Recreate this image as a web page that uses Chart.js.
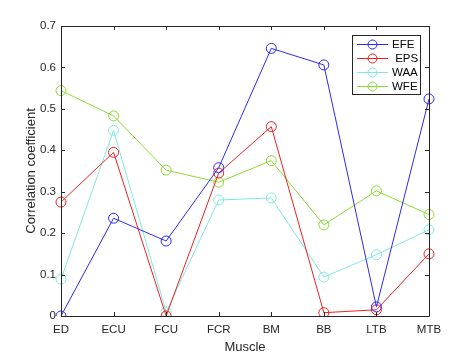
<!DOCTYPE html>
<html><head><meta charset="utf-8">
<script src="https://cdn.jsdelivr.net/npm/chart.js@4"></script>
<style>html,body{margin:0;padding:0;background:#fff;}#wrap{width:474px;height:355px;}</style>
</head><body><div id="wrap"><canvas id="c" width="474" height="355"></canvas></div>
<script>
const categories = ['ED','ECU','FCU','FCR','BM','BB','LTB','MTB'];
const efe = [0.000, 0.236, 0.181, 0.358, 0.646, 0.606, 0.022, 0.524];
const eps = [0.275, 0.395, 0.000, 0.345, 0.457, 0.008, 0.015, 0.150];
const waa = [0.089, 0.448, 0.010, 0.280, 0.285, 0.094, 0.148, 0.208];
const wfe = [0.544, 0.483, 0.352, 0.323, 0.375, 0.220, 0.302, 0.245];
const yTicks = [0, 0.1, 0.2, 0.3, 0.4, 0.5, 0.6, 0.7];
const legendLabels = ['EFE', ' EPS', 'WAA', 'WFE'];
const colors = ['#2b2bf0', '#ee2020', '#80e8e0', '#88dd33'];

const FONT = '"Liberation Sans", Arial, sans-serif';
const AX = '#262626';

function ds(label, data, color){
  return {label, data, borderColor: color, backgroundColor: 'rgba(0,0,0,0)',
    borderWidth: 1, pointRadius: 5, pointHoverRadius: 5, pointBorderWidth: 1,
    pointBackgroundColor: 'rgba(0,0,0,0)', pointBorderColor: color, tension: 0};
}

const boxPlugin = {
  id: 'boxPlugin',
  afterDraw(chart){
    const ctx = chart.ctx, a = chart.chartArea;
    const xs = chart.scales.x, ys = chart.scales.y;
    ctx.save();
    ctx.strokeStyle = AX; ctx.lineWidth = 1;
    ctx.beginPath();
    ctx.rect(Math.round(a.left)+0.5, Math.round(a.top)+0.5, Math.round(a.right-a.left), Math.round(a.bottom-a.top));
    ctx.stroke();
    const tl = 4;
    ctx.beginPath();
    categories.forEach((c,i)=>{
      const x = Math.round(xs.getPixelForValue(i))+0.5;
      ctx.moveTo(x, a.bottom); ctx.lineTo(x, a.bottom - tl);
      ctx.moveTo(x, a.top); ctx.lineTo(x, a.top + tl);
    });
    yTicks.forEach(v=>{
      const y = Math.round(ys.getPixelForValue(v))+0.5;
      ctx.moveTo(a.left, y); ctx.lineTo(a.left + tl, y);
      ctx.moveTo(a.right, y); ctx.lineTo(a.right - tl, y);
    });
    ctx.stroke();
    // legend
    const lx = 352, ly = 35, lw = 68, lh = 59;
    ctx.fillStyle = '#fff';
    ctx.fillRect(lx, ly, lw, lh);
    ctx.strokeStyle = AX;
    ctx.strokeRect(lx+0.5, ly+0.5, lw, lh);
    ctx.font = '11.5px ' + FONT;
    ctx.textBaseline = 'middle';
    ctx.textAlign = 'left';
    chart.data.datasets.forEach((d,i)=>{
      const yy = ly + 9 + i*14;
      ctx.strokeStyle = d.borderColor;
      ctx.beginPath(); ctx.moveTo(lx+5, yy+0.5); ctx.lineTo(lx+36, yy+0.5); ctx.stroke();
      ctx.beginPath(); ctx.arc(lx+20.5, yy+0.5, 4.5, 0, Math.PI*2); ctx.stroke();
      ctx.fillStyle = '#000';
      ctx.fillText(legendLabels[i], lx+40, yy+1);
    });
    ctx.restore();
  }
};

new Chart(document.getElementById('c'), {
  type: 'line',
  data: { labels: categories, datasets: [ds('EFE', efe, colors[0]), ds('EPS', eps, colors[1]), ds('WAA', waa, colors[2]), ds('WFE', wfe, colors[3])] },
  options: {
    responsive: false, animation: false, devicePixelRatio: 1,
    layout: { padding: { left: 24, right: 45, top: 26, bottom: 0 } },
    plugins: { legend: { display: false }, tooltip: { enabled: false } },
    scales: {
      x: { type: 'category', offset: false,
        grid: { display: false, drawTicks: false }, border: { display: false },
        ticks: { color: AX, font: { family: FONT, size: 11.5 }, padding: 7, maxRotation: 0, autoSkip: false },
        title: { display: true, text: 'Muscle', color: AX, font: { family: FONT, size: 13 }, padding: { top: 0, bottom: 0 } },
        afterFit(s){ s.height = 39; }
      },
      y: { min: 0, max: 0.7,
        afterBuildTicks(s){ s.ticks = yTicks.map(v=>({value:v})); },
        grid: { display: false, drawTicks: false }, border: { display: false },
        ticks: { color: AX, font: { family: FONT, size: 11.5 }, padding: 5, callback: v => String(+v.toFixed(1)) },
        title: { display: true, text: 'Correlation coefficient', color: AX, font: { family: FONT, size: 13 }, padding: { top: 0, bottom: 4 } },
        afterFit(s){ s.width = 37; }
      }
    }
  },
  plugins: [boxPlugin]
});
</script></body></html>
